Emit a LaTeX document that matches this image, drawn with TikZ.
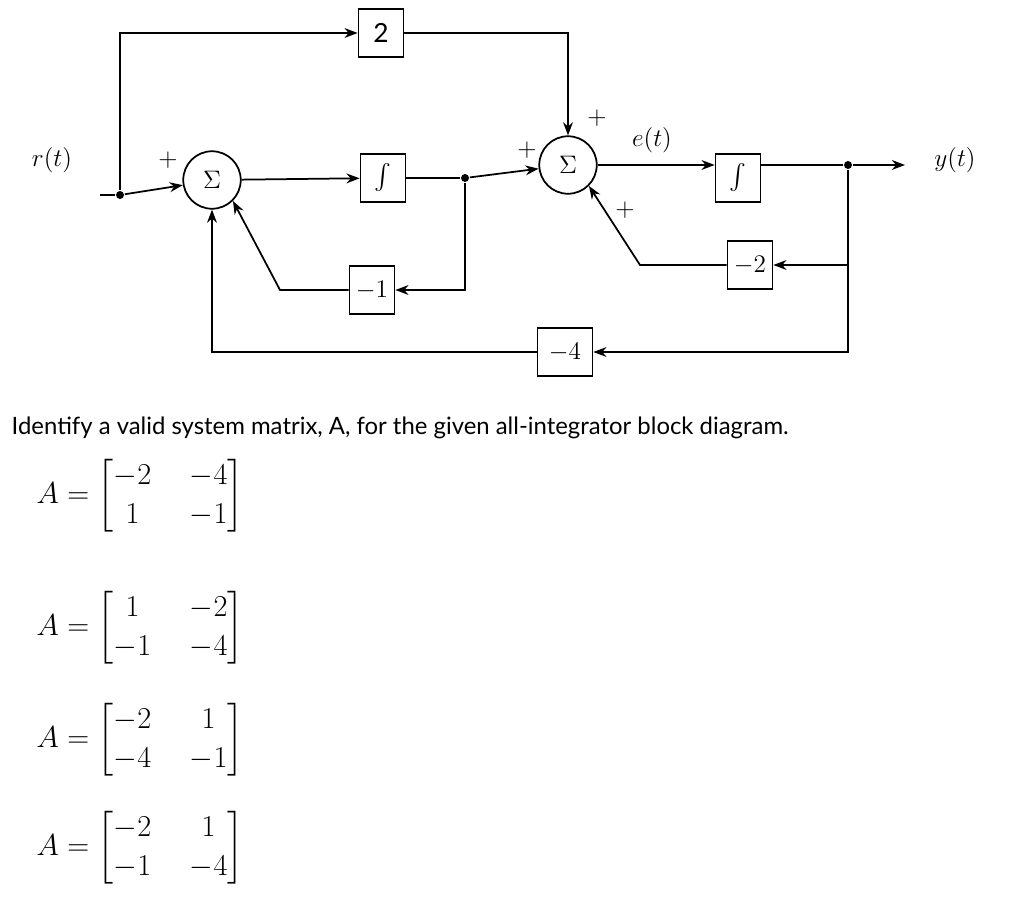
\documentclass[tikz,border=0pt]{standalone}
\usepackage{fontspec}
\usepackage{amsmath}
\setsansfont{Lato}
\usetikzlibrary{arrows.meta}
\begin{document}
\begin{tikzpicture}[%
        x = 0.02cm, y = -0.02cm,
        > = Stealth,
        line width = 0.35mm,
        font = \sffamily\fontsize{15}{18}\selectfont,
        blk/.style = {draw, minimum width = 0.9cm, minimum height = 0.95cm, inner sep = 0pt},
        sum/.style = {draw, circle, minimum size = 1.15cm, inner sep = 0pt},
        dot/.style = {circle, fill, inner sep = 1.6pt}
    ]

        \useasboundingbox (0,0) rectangle (1024,902);

        % Blocks and summing junctions.
        \node[sum] (S1) at (212,180) {$\Sigma$};
        \node[sum] (S2) at (568,165) {$\Sigma$};
        \node[blk] (K2) at (381,33) {2};
        \node[blk] (I1) at (383,178) {$\int$};
        \node[blk] (I2) at (738,178) {$\int$};
        \node[blk] (G1) at (372,290) {$-1$};
        \node[blk] (G2) at (750,265) {$-2$};
        \node[blk, minimum width = 1.1cm] (G4) at (565,352) {$-4$};

        % Branch points.
        \node[dot] (D0) at (120,195) {};
        \node[dot] (D1) at (465,178) {};
        \node[dot] (D2) at (848,165) {};
        \coordinate (R) at (100,195);
        \coordinate (Y) at (905,165);
        \coordinate (D3) at (848,265);

        % Forward path.
        \draw (R) -- (D0);
        \draw[->] (D0) -- (S1.190);
        \draw[->] (S1) -- (I1);
        \draw (I1) -- (D1);
        \draw[->] (D1) -- (S2);
        \draw[->] (S2) -- (I2.west |- S2);
        \draw (I2.east |- D2) -- (D2);
        \draw[->] (D2) -- (Y);

        % Feed-forward path.
        \draw[->] (D0) |- (K2);
        \draw[->] (K2) -| (S2);

        % Feedback paths.
        \draw[->] (D1) |- (G1);
        \draw[->] (G1.west) -- (280,290) -- (S1.south east);
        \draw[->] (D2) -- (D3) -- (G2);
        \draw[->] (G2.west) -- (640,265) -- (S2.south east);
        \draw[->] (D3) |- (G4);
        \draw[->] (G4.west) -- (S1.south |- G4.west) -- (S1.south);

        % Signs and signal names.
        \node (Lr) at (52,160) {$r(t)$};
        \node (Ly) at (955,160) {$y(t)$};
        \node (Le) at (652,140) {$e(t)$};
        \node (P1) at (168,160) {$+$};
        \node (P2) at (527,150) {$+$};
        \node (P3) at (597,118) {$+$};
        \node (P4) at (625,210) {$+$};

        % Question and answer choices.
        \node[anchor = west, font = \sffamily\fontsize{13.6}{16}\selectfont] (Q) at (5,428)
            {Identify a valid system matrix, A, for the given all-integrator block diagram.};
        \foreach \yy/\m in {
            496/{-2 & -4\\ 1 & -1},
            628/{1 & -2\\ -1 & -4},
            740/{-2 & 1\\ -4 & -1},
            848/{-2 & 1\\ -1 & -4}}{
            \node[anchor = west, font = \fontsize{16}{22}\selectfont] at (30,\yy)
                {$\setlength{\arraycolsep}{11pt}A = \begin{bmatrix} \m \end{bmatrix}$};
        }
    \end{tikzpicture}
\end{document}
